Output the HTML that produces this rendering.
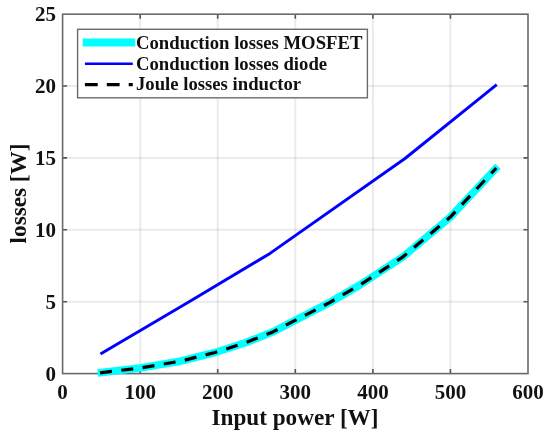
<!DOCTYPE html>
<html><head><meta charset="utf-8">
<style>
html,body{margin:0;padding:0;background:#fff;width:550px;height:438px;overflow:hidden}
svg{display:block}
text{font-family:"Liberation Serif","Times New Roman",serif;font-weight:bold;fill:#111}
</style></head><body>
<svg width="550" height="438" viewBox="0 0 550 438" xmlns="http://www.w3.org/2000/svg">
<rect x="0" y="0" width="550" height="438" fill="#fff"/>
<!-- grid -->
<g stroke="#262626" stroke-opacity="0.095" stroke-width="2" fill="none">
<line x1="140.2" y1="14.2" x2="140.2" y2="373.6"/>
<line x1="217.7" y1="14.2" x2="217.7" y2="373.6"/>
<line x1="295.3" y1="14.2" x2="295.3" y2="373.6"/>
<line x1="372.9" y1="14.2" x2="372.9" y2="373.6"/>
<line x1="450.4" y1="14.2" x2="450.4" y2="373.6"/>
<line x1="62.6" y1="301.7" x2="528" y2="301.7"/>
<line x1="62.6" y1="229.8" x2="528" y2="229.8"/>
<line x1="62.6" y1="157.9" x2="528" y2="157.9"/>
<line x1="62.6" y1="86.0" x2="528" y2="86.0"/>
</g>
<!-- ticks -->
<g stroke="#555" stroke-width="1.6" fill="none">
<path d="M140.2 373.6v-4.5M217.7 373.6v-4.5M295.3 373.6v-4.5M372.9 373.6v-4.5M450.4 373.6v-4.5"/>
<path d="M140.2 14.2v4.5M217.7 14.2v4.5M295.3 14.2v4.5M372.9 14.2v4.5M450.4 14.2v4.5"/>
<path d="M62.6 301.7h4.5M62.6 229.8h4.5M62.6 157.9h4.5M62.6 86h4.5"/>
<path d="M528 301.7h-4.5M528 229.8h-4.5M528 157.9h-4.5M528 86h-4.5"/>
</g>
<!-- axes box -->
<rect x="62.6" y="14.2" width="465.4" height="359.4" fill="none" stroke="#6a6a6a" stroke-width="1.6"/>
<!-- curves -->
<polyline fill="none" stroke="#00ffff" stroke-width="7.6" stroke-linecap="square" stroke-linejoin="round"
 points="101.4,372.6 140,368 180,361.3 215,352.5 245,342.9 272,332.3 300,317.9 330,302.4 360,284.9 403,256.8 450,217.3 495.3,169"/>
<polyline fill="none" stroke="#0000ff" stroke-width="2.9" stroke-linecap="square" stroke-linejoin="round"
 points="101.7,353.3 190,301.2 270,253.4 405,158.5 495.6,85.6"/>
<polyline fill="none" stroke="#000" stroke-width="3.2" stroke-dasharray="12 9.45" stroke-linejoin="round"
 points="100,372.8 140,368 180,361.3 215,352.5 245,342.9 272,332.3 300,317.9 330,302.4 360,284.9 403,256.8 450,217.3 496.3,168"/>
<!-- tick labels -->
<g font-size="21" text-anchor="middle">
<text x="62.6" y="398.6">0</text>
<text x="140.2" y="398.6">100</text>
<text x="217.7" y="398.6">200</text>
<text x="295.3" y="398.6">300</text>
<text x="372.9" y="398.6">400</text>
<text x="450.4" y="398.6">500</text>
<text x="528" y="398.6">600</text>
</g>
<g font-size="21" text-anchor="end">
<text x="56" y="380.8">0</text>
<text x="56" y="308.8">5</text>
<text x="56" y="236.8">10</text>
<text x="56" y="164.8">15</text>
<text x="56" y="92.8">20</text>
<text x="56" y="21.3">25</text>
</g>
<text x="295" y="424.8" font-size="23.2" text-anchor="middle">Input power [W]</text>
<text transform="translate(25.8 193.5) rotate(-90)" font-size="23.2" text-anchor="middle">losses [W]</text>
<!-- legend -->
<rect x="77.6" y="29.3" width="289.8" height="68.5" fill="#fff" stroke="#6a6a6a" stroke-width="1.4"/>
<line x1="82.7" y1="42.4" x2="135.2" y2="42.4" stroke="#00ffff" stroke-width="8"/>
<line x1="84.9" y1="63.7" x2="132.8" y2="63.7" stroke="#0000ff" stroke-width="2.6"/>
<line x1="84.9" y1="84.7" x2="132.8" y2="84.7" stroke="#000" stroke-width="3.2" stroke-dasharray="12.8 9.1"/>
<g font-size="18.7">
<text x="136" y="49.1">Conduction losses MOSFET</text>
<text x="136" y="69.5">Conduction losses diode</text>
<text x="136" y="90.1">Joule losses inductor</text>
</g>
</svg>
</body></html>
